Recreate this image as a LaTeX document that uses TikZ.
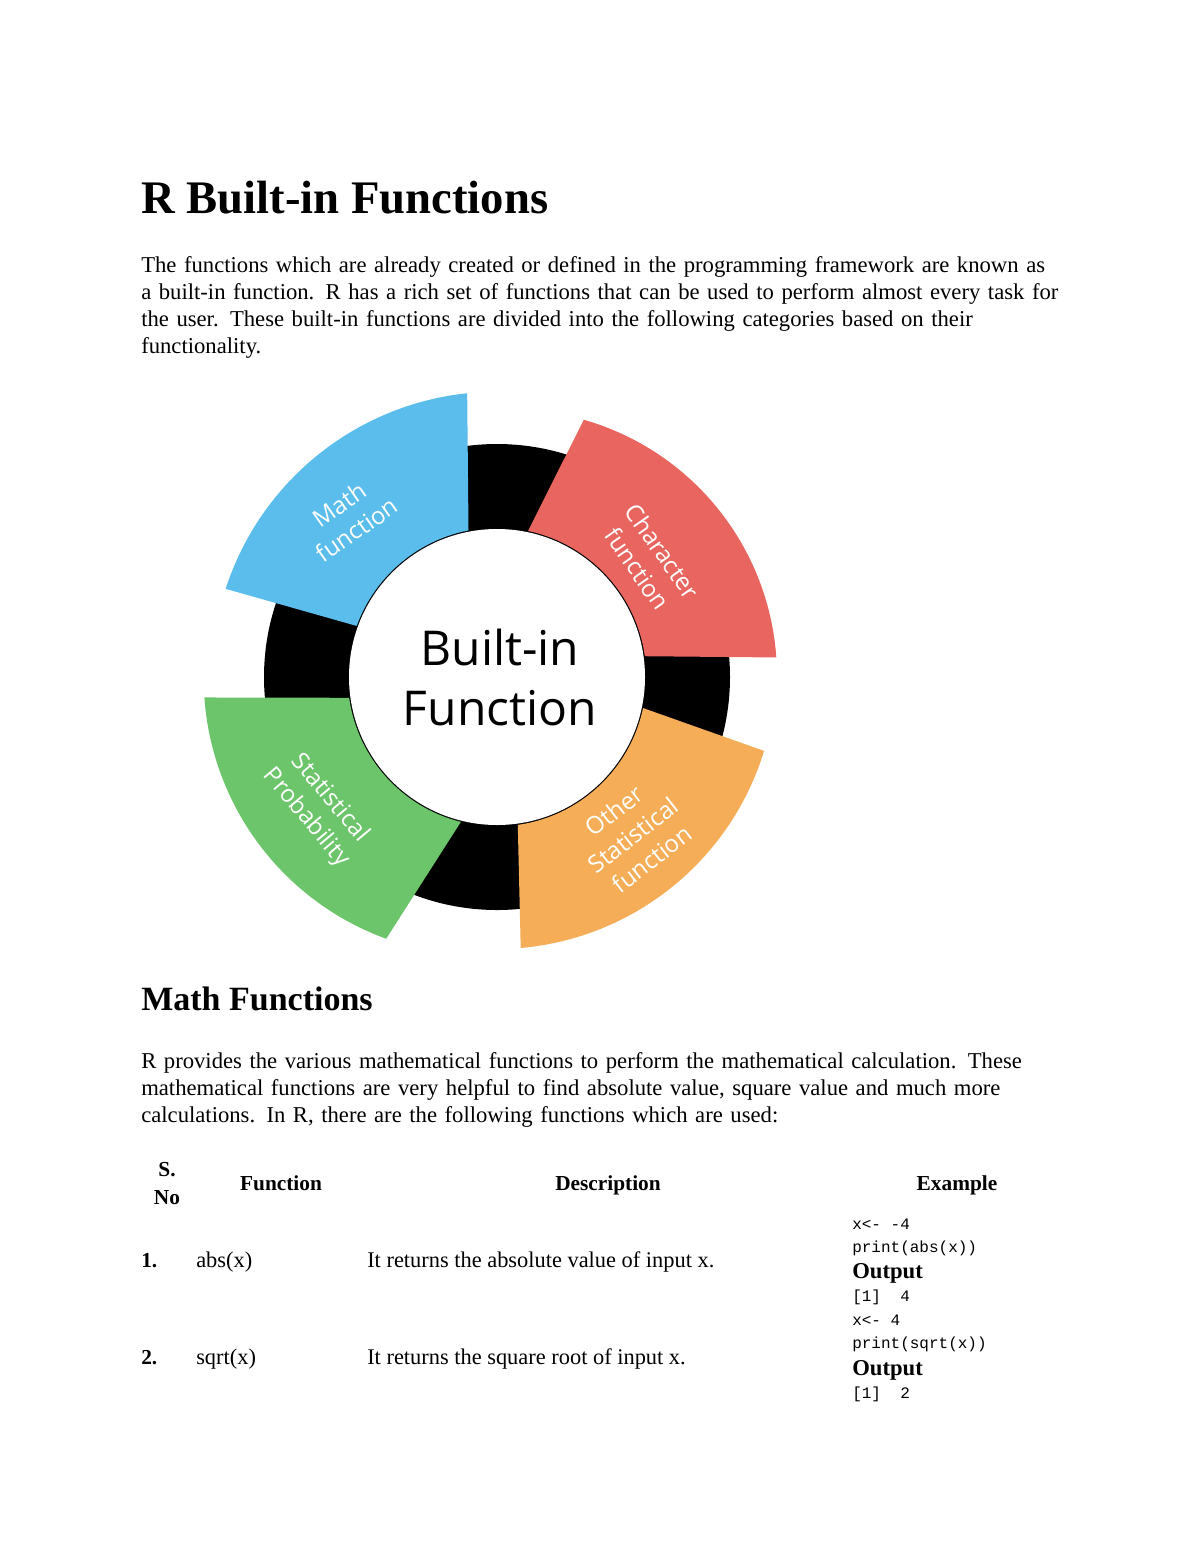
\documentclass[tikz,border=0pt]{standalone}
\usepackage{fontspec}
\usetikzlibrary{calc}
\setmainfont{Liberation Serif}
\setmonofont{Liberation Mono}
\newfontfamily\osans{Open Sans}
\definecolor{cblue}{HTML}{5BBDEB}
\definecolor{cred}{HTML}{E8665F}
\definecolor{corange}{HTML}{F5AE57}
\definecolor{cgreen}{HTML}{6CC56A}
\begin{document}
\begin{tikzpicture}[x=0.75pt,y=-0.75pt,
  body/.style={anchor=base west,inner sep=0,font=\fontsize{16.8}{20.25}\selectfont},
  para/.style={anchor=base west,inner sep=0,text width=760pt,align=left,font=\fontsize{17}{20.25}\selectfont},
  code/.style={anchor=base west,inner sep=0,font=\ttfamily\fontsize{12}{14}\selectfont},
  hd/.style={anchor=base,inner sep=0,font=\bfseries\fontsize{16}{17}\selectfont},
  seglbl/.style={text=white,font=\osans\fontsize{18}{23}\selectfont,align=center}]
\useasboundingbox (0,0) rectangle (1200,1553);
\node[anchor=base west,inner sep=0,font=\bfseries\fontsize{35}{36}\selectfont] (title) at (141,213) {R Built-in Functions};
\node[para] (p1) at (141,272) {The functions which are already created or defined in the programming framework are known as\\ a built-in function. R has a rich set of functions that can be used to perform almost every task for\\ the user. These built-in functions are divided into the following categories based on their\\ functionality.};
% diagram
\coordinate (c) at (497,677);
\fill[black] (c) circle[radius=233*0.75pt];
\fill[white] (c) circle[radius=148*0.75pt];
\fill[cblue] ($(c)+(101:112pt)$) arc[start angle=101,end angle=160,radius=112pt] -- ($(c)+(162:214pt)$) arc[start angle=162,end angle=96,radius=214pt] -- cycle;
\fill[cred] ($(c)+(78:112pt)$) arc[start angle=78,end angle=8,radius=112pt] -- ($(c)+(4:210pt)$) arc[start angle=4,end angle=74,radius=200pt] -- cycle;
\fill[corange] ($(c)+(-12:112pt)$) arc[start angle=-12,end angle=-82,radius=112pt] -- ($(c)+(-85:204pt)$) arc[start angle=-85,end angle=-17,radius=210pt] -- cycle;
\fill[cgreen] ($(c)+(-104:112pt)$) arc[start angle=-104,end angle=-172,radius=112pt] -- ($(c)+(-176:220pt)$) arc[start angle=-176,end angle=-110,radius=208pt] -- cycle;
\node[seglbl,rotate=35] (m) at (348,517) {Math\\function};
\node[seglbl,rotate=-55] (ch) at (650,560) {Character\\function};
\node[seglbl,rotate=-50] (st) at (318,808) {Statistical\\Probability};
\node[seglbl,rotate=38] (ot) at (633,835) {Other\\Statistical\\function};
\node[font=\osans\fontsize{36}{45}\selectfont,align=center] (bf) at (500,677) {Built-in\\Function};
% math functions
\node[anchor=base west,inner sep=0,font=\bfseries\fontsize{25.5}{26}\selectfont] (h2) at (141,1010) {Math Functions};
\node[para] (p2) at (141,1068) {R provides the various mathematical functions to perform the mathematical calculation. These\\ mathematical functions are very helpful to find absolute value, square value and much more\\ calculations. In R, there are the following functions which are used:};
\node[hd] (h1) at (167,1176) {S.};
\node[hd] (h1b) at (167,1204) {No};
\node[hd] (h2b) at (281,1190) {Function};
\node[hd] (h3) at (608,1190) {Description};
\node[hd] (h4) at (957,1190) {Example};
\node[anchor=base west,inner sep=0,font=\bfseries\fontsize{16}{17}\selectfont] (r1) at (141,1267) {1.};
\node[body] (f1) at (196,1267) {abs(x)};
\node[body] (d1) at (367,1267) {It returns the absolute value of input x.};
\node[code] (e1a) at (852,1229) {x<- -4};
\node[code] (e1b) at (852,1252) {print(abs(x))};
\node[anchor=base west,inner sep=0,font=\bfseries\fontsize{17}{17}\selectfont] (o1) at (852,1278) {Output};
\node[code] (e1c) at (852,1301) {[1]\ \ 4};
\node[anchor=base west,inner sep=0,font=\bfseries\fontsize{16}{17}\selectfont] (r2) at (141,1364) {2.};
\node[body] (f2) at (196,1364) {sqrt(x)};
\node[body] (d2) at (367,1364) {It returns the square root of input x.};
\node[code] (e2a) at (852,1325) {x<- 4};
\node[code] (e2b) at (852,1348) {print(sqrt(x))};
\node[anchor=base west,inner sep=0,font=\bfseries\fontsize{17}{17}\selectfont] (o2) at (852,1375) {Output};
\node[code] (e2c) at (852,1398) {[1]\ \ 2};
\end{tikzpicture}
\end{document}
